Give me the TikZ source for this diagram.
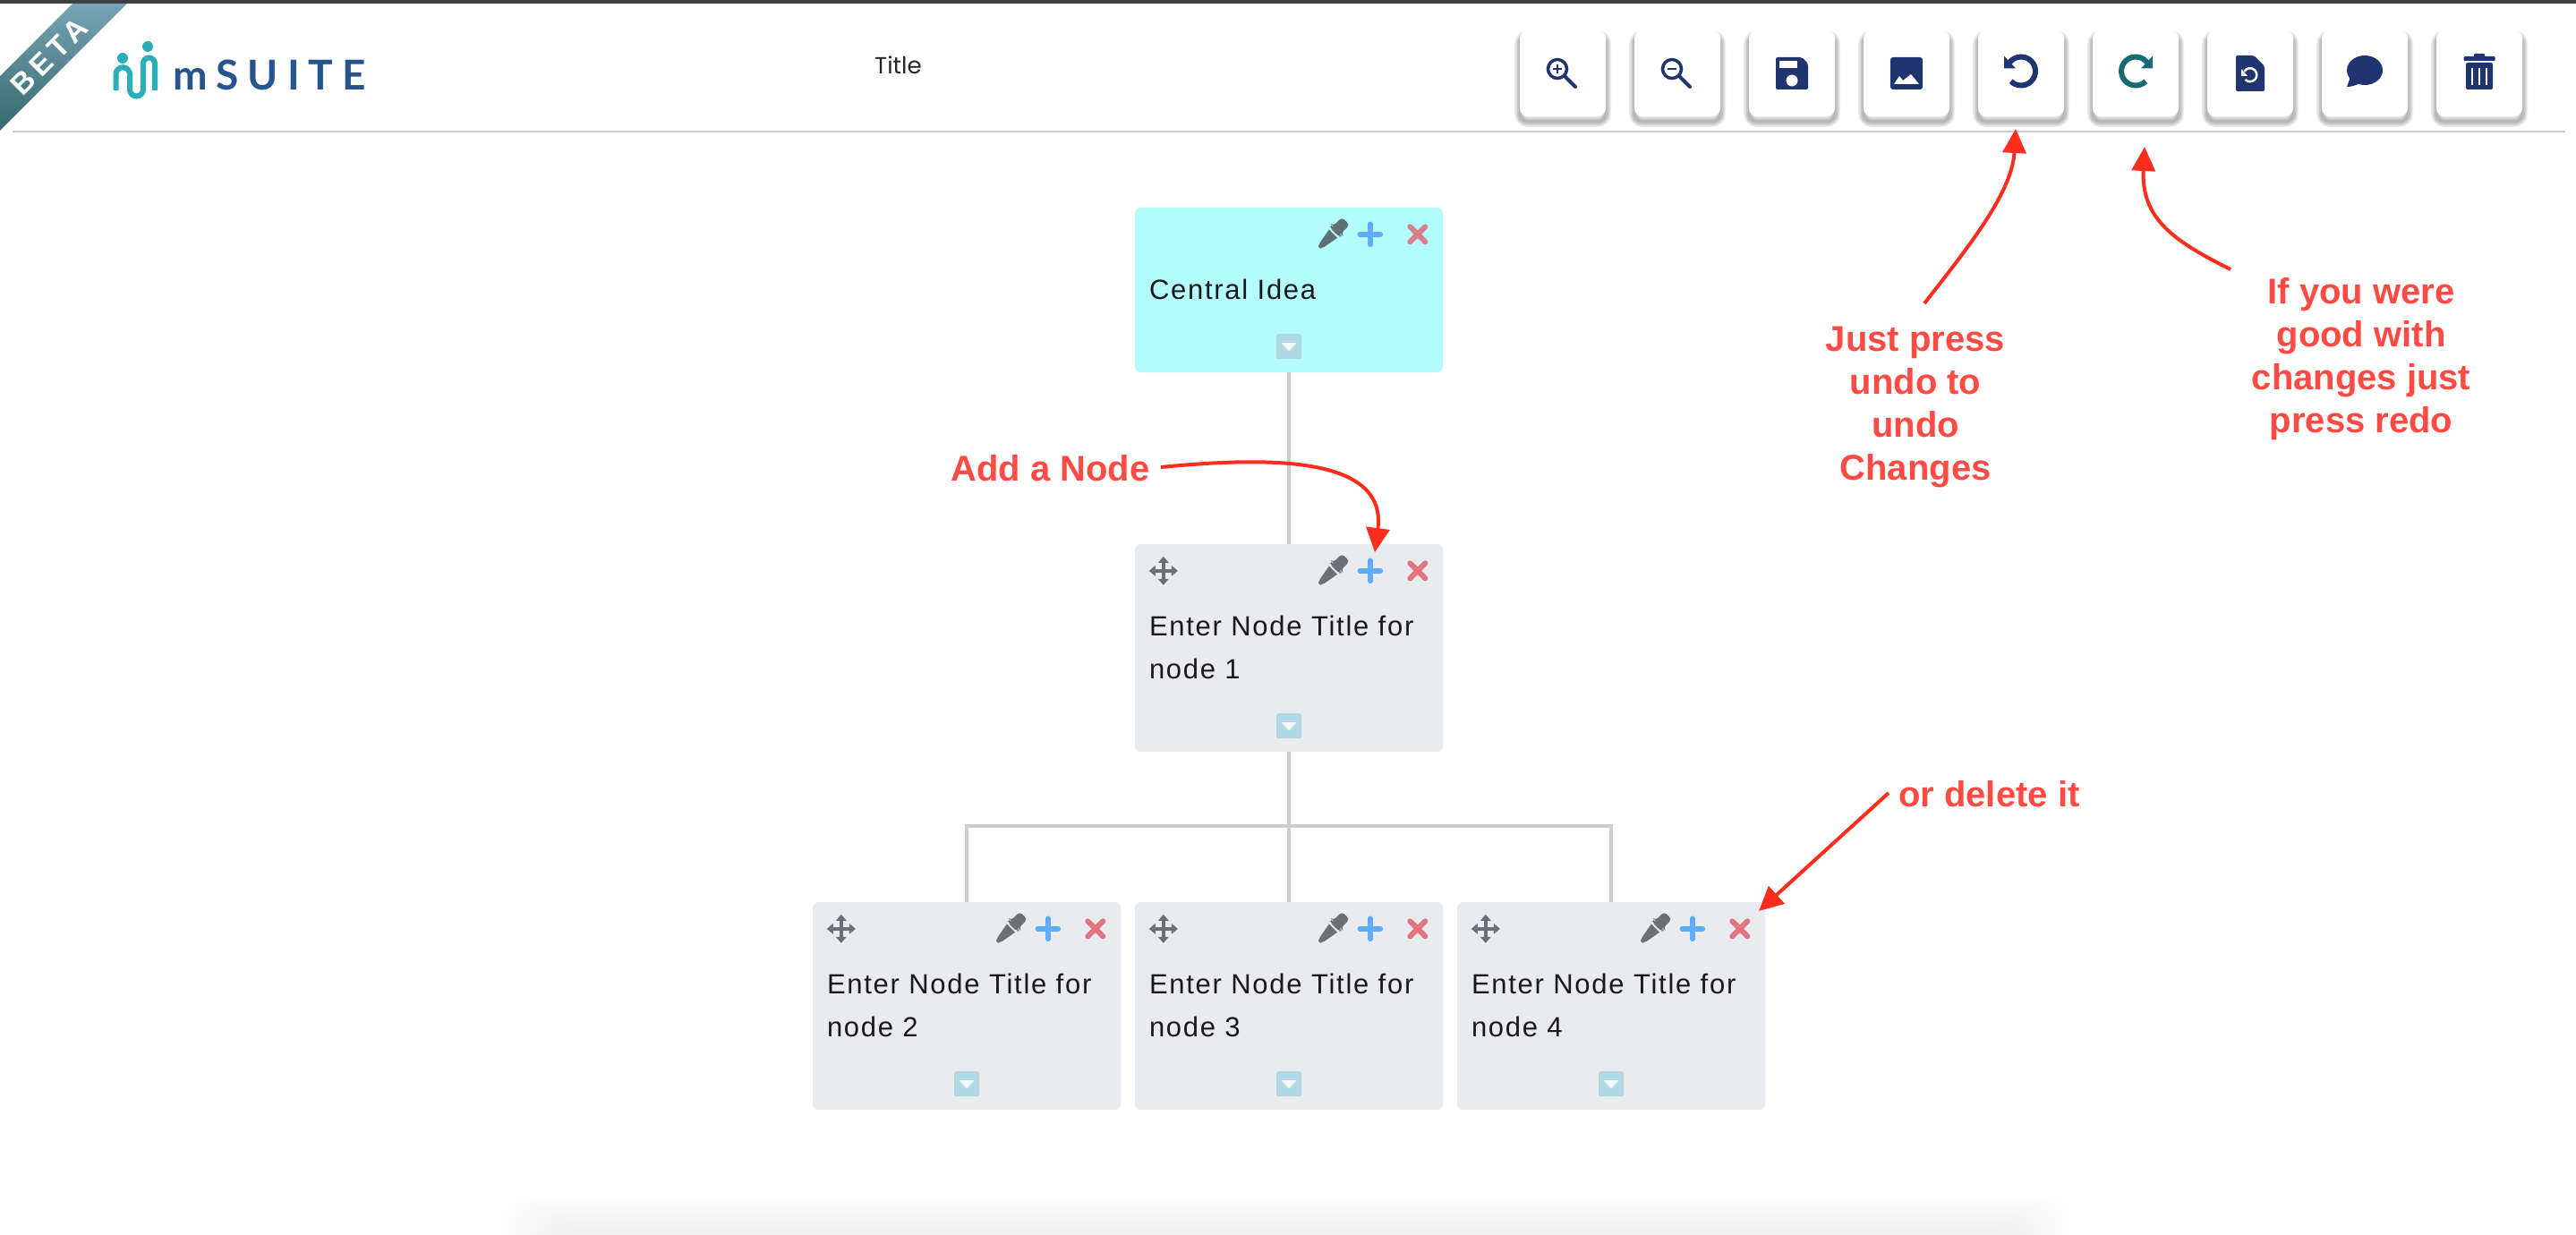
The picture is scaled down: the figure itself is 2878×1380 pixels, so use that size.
\documentclass[tikz,border=0pt]{standalone}
\usepackage{fontspec}
\setmainfont{Liberation Sans}
\newfontfamily\cardfont[LetterSpace=5.6]{Liberation Sans}
\newfontfamily\logofont[LetterSpace=22]{Lato}
\newfontfamily\betafont[LetterSpace=18]{Liberation Sans}
\newfontfamily\titlefont{Poppins}
\usetikzlibrary{arrows.meta}
\definecolor{navy}{HTML}{1F3470}
\definecolor{tealdark}{HTML}{176B75}
\definecolor{logoteal}{HTML}{2AAEB7}
\definecolor{logoblue}{HTML}{26558E}
\definecolor{cardgray}{HTML}{EAEBEF}
\definecolor{cardcyan}{HTML}{B4FBFE}
\definecolor{wiregray}{HTML}{CCCCCC}
\definecolor{chevblue}{HTML}{B0D8E4}
\definecolor{plusblue}{HTML}{5CADFF}
\definecolor{notered}{HTML}{FF4B43}
\definecolor{arrowred}{HTML}{FF2D1E}
\definecolor{ribbonlight}{HTML}{8DB7CB}
\definecolor{ribbondark}{HTML}{2F6468}
\definecolor{dropgray}{HTML}{6C7074}
\definecolor{dropcyan}{HTML}{5E7074}
\definecolor{crossgray}{HTML}{E2747E}
\definecolor{crosscyan}{HTML}{D97F88}
\tikzset{
  card/.style={rectangle,rounded corners=7pt,inner sep=0pt,minimum width=344pt,minimum height=232pt,fill=cardgray},
  cardtext/.style={inner sep=0pt,align=left,anchor=base west,text=black!90,font=\cardfont\fontsize{31}{48}\selectfont},
  wire/.style={draw=wiregray,line width=4pt},
  note/.style={inner sep=0pt,text=notered,align=center,font=\bfseries\fontsize{40}{48}\selectfont},
  notearrow/.style={->,draw=arrowred,line width=4pt},
  shadowlayer/.style={preaction={draw=black,opacity=.08,line width=#1,transform canvas={yshift=-6pt}}},
  toolbtn/.style={rectangle,rounded corners=9pt,inner sep=0pt,minimum size=96pt,fill=white,
    shadowlayer=12pt,shadowlayer=9pt,shadowlayer=6pt,shadowlayer=3pt},
  chevbtn/.style={rectangle,rounded corners=2pt,inner sep=0pt,minimum size=28pt,fill=chevblue},
  % card icons
  pics/dropper/.style={code={
    \begin{scope}[rotate=45]
      \fill[#1,rounded corners=4pt] (3,-8) -- (7,-8) -- (7,-6) -- (21,-6) -- (21,6) -- (7,6) -- (7,8) -- (3,8) -- cycle;
      \fill[#1] (1,-6.5) -- (-16,-3.5) -- (-21,-1.5) -- (-21,1.5) -- (-16,3.5) -- (1,6.5) -- cycle;
    \end{scope}
  }},
  pics/plusicon/.style={code={
    \draw[plusblue,line width=5.5pt,line cap=round] (-11.5,0) -- (11.5,0) (0,-11.5) -- (0,11.5);
  }},
  pics/crossicon/.style={code={
    \draw[#1,line width=6pt,line cap=round] (-8.5,-8.5) -- (8.5,8.5) (-8.5,8.5) -- (8.5,-8.5);
  }},
  pics/moveicon/.style={code={
    \draw[dropgray,line width=3.5pt] (-11,0) -- (11,0) (0,-11) -- (0,11);
    \fill[dropgray] (-16,0) -- (-9,-6) -- (-9,6) -- cycle (16,0) -- (9,-6) -- (9,6) -- cycle
      (0,-16) -- (-6,-9) -- (6,-9) -- cycle (0,16) -- (-6,9) -- (6,9) -- cycle;
  }},
  % toolbar icons
  pics/lensicon/.style={code={
    \draw[navy,line width=3.5pt] (-6,-5) circle (10.5);
    \draw[navy,line width=4pt,line cap=round] (1.5,2.5) -- (14,15);
    \draw[navy,line width=2.5pt] (-11,-5) -- (-1,-5);
    \ifnum#1=1 \draw[navy,line width=2.5pt] (-6,-10) -- (-6,0); \fi
  }},
  pics/saveicon/.style={code={
    \fill[navy,rounded corners=2pt] (-18,-18) -- (11,-18) -- (18,-11) -- (18,18) -- (-18,18) -- cycle;
    \fill[white] (-14,-14) rectangle (6,-6);
    \fill[white] (0,8) circle (6.5);
  }},
  pics/imageicon/.style={code={
    \fill[navy,rounded corners=3pt] (-18,-18) rectangle (18,18);
    \fill[white] (-14,12) -- (-8,3) -- (-4,8) -- (5,1) -- (14,12) -- cycle;
  }},
  pics/arcicon/.style={code={
    \draw[#1,line width=6pt] (135:16) arc[start angle=135,end angle=-150,radius=16];
    \fill[#1] (-19,-17) -- (-19,-3) -- (-6,-3) -- cycle;
  }},
  pics/restoreicon/.style={code={
    \fill[navy,rounded corners=2pt] (-16,-20) -- (4,-20) -- (16,-8) -- (16,20) -- (-16,20) -- cycle;
    \draw[white,line width=2.5pt] (-5.5,7) arc[start angle=135,end angle=-150,radius=7.5];
    \fill[white] (-10,-5) -- (-10,3) -- (-3,3) -- cycle;
  }},
  pics/commenticon/.style={code={
    \fill[navy] (0,-3.5) ellipse [x radius=20,y radius=16.5];
    \fill[navy] (-16,4) -- (-20,15) .. controls (-14,15) and (-10,13) .. (-5,11) -- cycle;
  }},
  pics/trashicon/.style={code={
    \fill[navy,rounded corners=1pt] (-17.5,-19) rectangle (17.5,-14);
    \fill[navy,rounded corners=1pt] (-6,-22) rectangle (6,-17);
    \fill[navy,rounded corners=2pt] (-15,-12) rectangle (15,18);
    \draw[white,line width=2pt] (-8,-6) -- (-8,13) (0,-6) -- (0,13) (8,-6) -- (8,13);
  }},
}
\begin{document}
\begin{tikzpicture}[x=1pt,y=-1pt,>={Triangle[length=27pt,width=26pt]},node distance=400pt]
  \useasboundingbox (0,0) rectangle (2878,1380);
  \fill[white] (0,0) rectangle (2878,1380);

  % bottom fade
  \foreach \i in {0,...,15}
    \fill[black,opacity=.004,rounded corners=24pt] (560+5*\i,1334+3*\i) rectangle (2315-5*\i,1440);

  % header
  \node (ribbon) [rectangle,rotate=45,inner sep=0pt,minimum width=240pt,minimum height=43pt,
    top color=ribbonlight,bottom color=ribbondark] at (57.75,57.75) {};
  \node (betatext) [rotate=45,inner sep=0pt,text=white,font=\betafont\bfseries\fontsize{33}{33}\selectfont] at (55,63) {BETA};
  \fill[black!75] (0,0) rectangle (2878,4);
  \draw[wiregray,line width=2.5pt] (14,147) -- (2866,147);

  % logo
  \fill[logoteal] (137,65) circle (6) (165,52) circle (6);
  \draw[logoteal,line width=6pt] (129.5,101) -- (129.5,83) arc[start angle=180,end angle=360,radius=7.75]
    -- (145,100) arc[start angle=180,end angle=0,radius=7.5] -- (160,71)
    arc[start angle=180,end angle=360,radius=6.5] -- (173,101);
  \node (logotext) [anchor=base west,inner sep=0pt,text=logoblue,font=\logofont\bfseries\fontsize{46}{46}\selectfont] at (193,101) {mSUITE};
  \node (doctitle) [anchor=base west,inner sep=0pt,text=black!85,font=\titlefont\fontsize{26}{26}\selectfont] at (977,83) {Title};

  % toolbar
  \begin{scope}[node distance=128pt]
    \node (zoomin) [toolbtn] at (1746,82) {};
    \node (zoomout) [toolbtn,right of=zoomin] {};
    \node (save) [toolbtn,right of=zoomout] {};
    \node (image) [toolbtn,right of=save] {};
    \node (undo) [toolbtn,right of=image] {};
    \node (redo) [toolbtn,right of=undo] {};
    \node (restore) [toolbtn,right of=redo] {};
    \node (comment) [toolbtn,right of=restore] {};
    \node (trash) [toolbtn,right of=comment] {};
  \end{scope}
  \pic at (zoomin) {lensicon=1};
  \pic at (zoomout) {lensicon=0};
  \pic at (save) {saveicon};
  \pic at (image) {imageicon};
  \pic at ([yshift=2.5pt]undo) {arcicon=navy};
  \pic[xscale=-1] at ([yshift=2.5pt]redo) {arcicon=tealdark};
  \pic at (restore) {restoreicon};
  \pic at (comment) {commenticon};
  \pic at (trash) {trashicon};

  % cards
  \node (root) [card,fill=cardcyan,minimum height=184pt] at (1440,324) {};
  \node (n1) [card,below of=root] {};
  \node (n3) [card,below of=n1] {};
  \node (n2) [card,left of=n3,xshift=40pt] {};
  \node (n4) [card,right of=n3,xshift=-40pt] {};
  \coordinate (bar) at (1440,923);
  \draw[wire] (root) -- (n1);
  \draw[wire] (n1) -- (n3);
  \draw[wire] (n2) |- (bar) -| (n4);

  \node (rootlabel) [cardtext] at ([shift={(16,103)}]root.north west) {Central Idea};
  \foreach \card/\num in {n1/1,n2/2,n3/3,n4/4} {
    \node (\card label) [cardtext] at ([shift={(16,151)}]\card.north west) {Enter Node Title for\\node \num};
    \pic at ([shift={(32,30)}]\card.north west) {moveicon};
  }
  \foreach \card/\dropcol/\crosscol in {root/dropcyan/crosscyan,n1/dropgray/crossgray,
      n2/dropgray/crossgray,n3/dropgray/crossgray,n4/dropgray/crossgray} {
    \pic at ([shift={(221,30)}]\card.north west) {dropper=\dropcol};
    \pic at ([shift={(263,30)}]\card.north west) {plusicon};
    \pic at ([shift={(316,30)}]\card.north west) {crossicon=\crosscol};
    \node (\card chev) [chevbtn] at ([yshift=29pt]\card.south) {};
    \fill[white!85!chevblue] ([shift={(-8.5,-4)}]\card chev.center) -- ([shift={(8.5,-4)}]\card chev.center) -- ([shift={(0,5)}]\card chev.center) -- cycle;
  }

  % notes
  \node (addnote) [note,anchor=base west] at (1062,537) {Add a Node};
  \node (undonote) [note,anchor=base] at (2140,536) {Just press\\undo to\\undo\\Changes};
  \node (redonote) [note,anchor=base] at (2638,483) {If you were\\good with\\changes just\\press redo};
  \node (delnote) [note,anchor=base west] at (2121,901) {or delete it};

  \coordinate (addfrom) at (1297,522);
  \coordinate (addto) at (1536,617);
  \coordinate (undofrom) at (2150,339);
  \coordinate (undoto) at (2252,144);
  \coordinate (redofrom) at (2492,301);
  \coordinate (redoto) at (2396,164);
  \coordinate (delfrom) at (2110,886);
  \coordinate (delto) at (1965,1018);
  \draw[notearrow] (addfrom) .. controls (1420,510) and (1550,510) .. (addto);
  \draw[notearrow] (undofrom) .. controls (2200,275) and (2248,215) .. (undoto);
  \draw[notearrow] (redofrom) .. controls (2430,270) and (2392,245) .. (redoto);
  \draw[notearrow] (delfrom) -- (delto);
\end{tikzpicture}
\end{document}
